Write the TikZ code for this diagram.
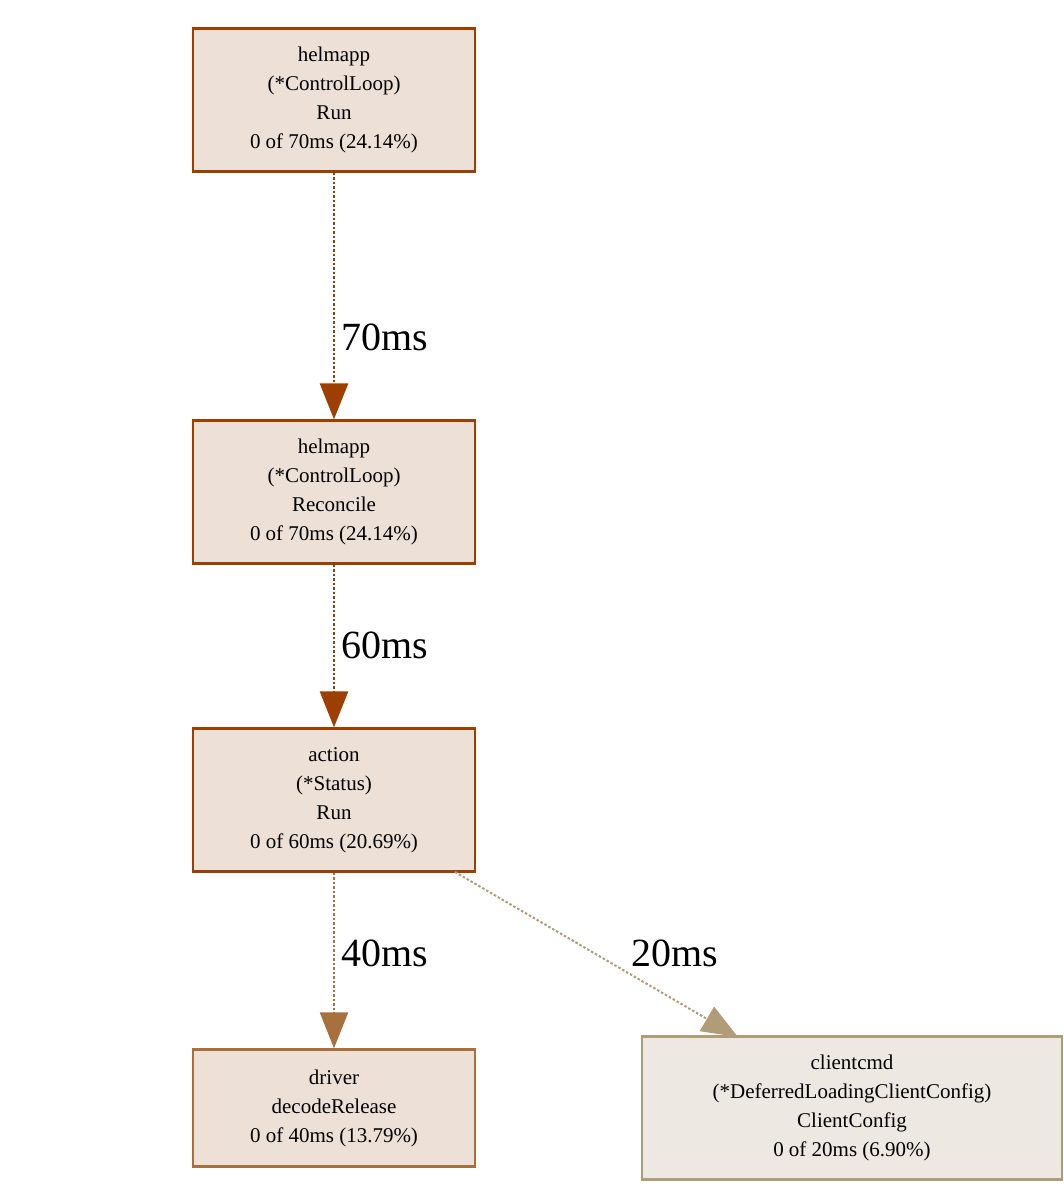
\documentclass[tikz,border=0pt]{standalone}
\usepackage{fontspec}
\setmainfont{Liberation Serif}
\usetikzlibrary{arrows.meta}
\definecolor{hot}{HTML}{9C3F00}
\definecolor{mid}{HTML}{A8703C}
\definecolor{cool}{HTML}{B09C78}
\definecolor{fhot}{HTML}{EDE0D6}
\definecolor{fcool}{HTML}{EDE8E2}
\tikzset{x=1pt,y=-1pt,
 fn/.style={draw,line width=2.2pt,fill=fhot,align=center,inner sep=0pt,font=\fontsize{21}{29}\selectfont},
 ed/.style={line width=2.5pt,dotted,-{Triangle[length=36pt,width=28pt]}},
 lab/.style={font=\fontsize{40}{40}\selectfont,anchor=west}}
\begin{document}
\begin{tikzpicture}
\useasboundingbox (0,0) rectangle (1064,1184);
\node[fn,draw=hot,minimum width=282pt,minimum height=143pt] (run) at (334,100) {helmapp\\(*ControlLoop)\\Run\\0 of 70ms (24.14\%)};
\node[fn,draw=hot,minimum width=282pt,minimum height=143pt] (rec) at (334,492) {helmapp\\(*ControlLoop)\\Reconcile\\0 of 70ms (24.14\%)};
\node[fn,draw=hot,minimum width=282pt,minimum height=143pt] (st) at (334,800) {action\\(*Status)\\Run\\0 of 60ms (20.69\%)};
\node[fn,draw=mid,minimum width=282pt,minimum height=117pt] (drv) at (334,1108) {driver\\decodeRelease\\0 of 40ms (13.79\%)};
\node[fn,draw=cool,fill=fcool,minimum width=420pt,minimum height=143pt] (cc) at (852,1108) {clientcmd\\(*DeferredLoadingClientConfig)\\ClientConfig\\0 of 20ms (6.90\%)};
\draw[ed,draw=hot] (run.south) -- (rec.north);
\draw[ed,draw=hot] (rec.south) -- (st.north);
\draw[ed,draw=mid,line width=2pt] (st.south) -- (drv.north);
\draw[ed,draw=cool,line width=2pt] (455,872) -- (738,1037);
\node[lab] (l1) at (338,337) {70ms};
\node[lab] (l2) at (338,645) {60ms};
\node[lab] (l3) at (338,953) {40ms};
\node[lab] (l4) at (628,953) {20ms};
\end{tikzpicture}
\end{document}
